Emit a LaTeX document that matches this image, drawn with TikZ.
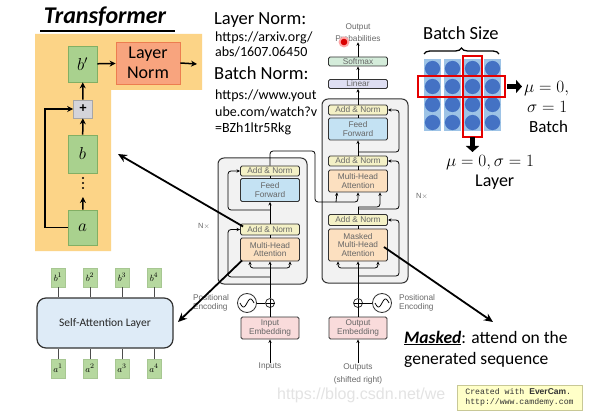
\documentclass[tikz,border=0pt]{standalone}
\usepackage{fontspec}
\setmainfont{Carlito}
\newfontfamily\helv{Liberation Sans}
\newfontfamily\monof{Liberation Mono}
\usetikzlibrary{arrows.meta,decorations.pathreplacing,calc}
\definecolor{orangebg}{RGB}{252,212,135}
\definecolor{gfill}{RGB}{169,209,142}
\definecolor{gdraw}{RGB}{130,175,100}
\definecolor{lnfill}{RGB}{248,164,126}
\definecolor{lndraw}{RGB}{236,125,80}
\definecolor{plusfill}{RGB}{212,212,218}
\definecolor{anfill}{RGB}{244,241,198}
\definecolor{fffill}{RGB}{196,226,243}
\definecolor{mhafill}{RGB}{252,224,192}
\definecolor{embfill}{RGB}{249,219,219}
\definecolor{smfill}{RGB}{212,236,218}
\definecolor{linfill}{RGB}{222,222,242}
\definecolor{blockfill}{RGB}{242,242,242}
\definecolor{colfill}{RGB}{157,195,230}
\definecolor{dotfill}{RGB}{68,114,196}
\definecolor{safill}{RGB}{222,235,247}
\definecolor{ecfill}{RGB}{255,255,200}
\definecolor{ecdraw}{RGB}{200,200,150}
\definecolor{txtgray}{RGB}{105,105,105}
\newcommand{\fsz}[1]{\fontsize{#1}{#1}\selectfont}
\tikzset{
  arch/.style={draw=black!80, line width=0.9pt, rounded corners=1.5pt, inner sep=0pt, align=center,
    font=\helv\fsz{8.3}, text=black!60},
  anbox/.style={arch, fill=anfill, minimum width=59pt, minimum height=10pt},
  ffbox/.style={arch, fill=fffill, minimum width=59pt, minimum height=23pt},
  mhabox/.style={arch, fill=mhafill, minimum width=59pt, minimum height=23pt},
  embbox/.style={arch, fill=embfill, minimum width=58pt, minimum height=22pt},
  smbox/.style={arch, fill=smfill, minimum width=59pt, minimum height=9pt},
  linbox/.style={arch, fill=linfill, minimum width=59pt, minimum height=9pt},
  block/.style={draw=black!80, fill=blockfill, line width=1pt, rounded corners=6pt},
  lbl/.style={font=\helv\fsz{8.3}, text=txtgray, inner sep=0pt, align=center},
  arr/.style={-{Stealth[length=3.5pt,width=3.2pt]}, line width=0.8pt},
  ln/.style={line width=0.8pt},
  gbox/.style={draw=gdraw, fill=gfill, line width=0.8pt, minimum width=29pt, inner sep=0pt, font=\fsz{18}},
  tarr/.style={-{Stealth[length=6pt,width=6pt]}, line width=1.5pt},
  bigarr/.style={-{Stealth[length=9pt,width=8pt]}, line width=1.8pt},
  sgbox/.style={draw=gdraw!70, fill=gfill!85, line width=0.5pt, minimum width=14pt, minimum height=19pt, inner sep=0pt, font=\fsz{9.5}},
  bigtxt/.style={anchor=base west, inner sep=0pt},
}
\begin{document}
\begin{tikzpicture}[x=1pt,y=-1pt]
\useasboundingbox (0,0) rectangle (589,414);
\fill[white] (0,0) rectangle (589,414);

% watermark (visible part, left of the EverCam box)
\node[anchor=west, text=black!11, font=\helv\fsz{16}, inner sep=0pt] (wm) at (277,395) {https://blog.csdn.net/we};

% ---------------- Transformer (top left) ----------------
\node[font=\fsz{24}\bfseries\itshape, inner sep=0pt] (title) at (105,17) {Transformer};
\draw[line width=1.2pt] (40,31) -- (175,31);
\fill[orangebg] (35,34) -- (202,34) -- (202,90) -- (111,90) -- (111,251) -- (35,251) -- cycle;
\node[gbox, minimum height=36pt] (bp) at (82.5,64) {$b'$};
\node[draw=lndraw, fill=lnfill, line width=0.8pt, minimum width=64pt, minimum height=42pt, inner sep=0pt,
  align=center, font=\fontsize{18}{20}\selectfont] (lnorm) at (148,63) {Layer\\Norm};
\node[draw=black!35, fill=plusfill, line width=0.6pt, minimum width=19pt, minimum height=18pt, inner sep=0pt,
  font=\fsz{14}\bfseries] (plus) at (83,109) {+};
\node[gbox, minimum height=38pt] (b) at (82.5,154) {$b$};
\node[gbox, minimum height=35pt] (a) at (82.5,227.5) {$a$};
\coordinate (lnout) at (197,64);
\coordinate (dotstop) at (83,197);
\draw[tarr] (bp) -- (lnorm);
\draw[tarr] (lnorm.east) -- (lnout);
\draw[tarr] (plus) -- (bp);
\draw[tarr] (b) -- (plus);
\foreach \yy in {178,183,188} \fill (83,\yy) circle (1.1);
\draw[tarr] (a) -- (dotstop);
\draw[tarr] (a.west) -- (45,227.5) |- (plus.west);

% ---------------- text block ----------------
\node[bigtxt, font=\fsz{18.5}] (t1) at (214,25) {Layer Norm:};
\node[bigtxt, font=\fsz{14}] (t2) at (215,42) {https://arxiv.org/};
\node[bigtxt, font=\fsz{14}] (t3) at (215,57) {abs/1607.06450};
\node[bigtxt, font=\fsz{18.5}] (t4) at (214,80) {Batch Norm:};
\node[bigtxt, font=\fsz{14}] (t5) at (215,100) {https://www.yout};
\node[bigtxt, font=\fsz{14}] (t6) at (215,116.5) {ube.com/watch?v};
\node[bigtxt, font=\fsz{14}] (t7) at (215,133) {=BZh1ltr5Rkg};

% ---------------- Encoder ----------------
\draw[block] (218,158) rectangle (307,284);
\node[anbox, minimum height=10pt] (eAN2) at (270,171) {Add \& Norm};
\node[ffbox] (eFF) at (270,190) {Feed\\Forward};
\node[anbox, minimum height=11pt] (eAN1) at (270,229.5) {Add \& Norm};
\node[mhabox] (eMHA) at (270,249.5) {Multi-Head\\Attention};
\node[embbox] (eEmb) at (270,328) {Input\\Embedding};
\node[draw=black!80, line width=0.8pt, circle, minimum size=9pt, inner sep=0pt] (ePlus) at (270,303) {};
\draw[line width=0.7pt] (265.5,303) -- (274.5,303) (270,298.5) -- (270,307.5);
\node[draw=black!80, line width=0.8pt, circle, minimum size=19pt, inner sep=0pt] (eSin) at (247,303) {};
\draw[line width=0.8pt, domain=-7:7, samples=30, smooth, variable=\t] plot ({247+\t},{303-4*sin(\t/7*180)});
\node[lbl] (eIn) at (270,367) {Inputs};
\node[lbl, align=left] (ePE) at (211,303) {Positional\\[1pt]Encoding};
\node[lbl, font=\helv\fsz{7.5}] (eN) at (204,226) {N$\times$};
\draw[arr] (eIn.north) -- (eEmb.south);
\draw[ln] (eEmb.north) -- (ePlus.south);
\draw[ln] (eSin.east) -- (ePlus.west);
\draw[arr] (ePlus.north) -- (eMHA.south);
\draw[arr, rounded corners=3pt] (270,268) -| ($(eMHA.south)+(-20,0)$);
\draw[arr, rounded corners=3pt] (270,268) -| ($(eMHA.south)+(20,0)$);
\draw[arr, rounded corners=3pt] (270,277) -| (228,229.5) -- (eAN1.west);
\draw[ln] (eMHA.north) -- (eAN1.south);
\draw[arr] (eAN1.north) -- (eFF.south);
\draw[arr, rounded corners=3pt] (270,210) -| (228,171) -- (eAN2.west);
\draw[ln] (eFF.north) -- (eAN2.south);

% ---------------- Decoder ----------------
\draw[block] (322,99) rectangle (408,283);
\node[anbox] (dAN3) at (358,110) {Add \& Norm};
\node[ffbox, minimum height=22pt] (dFF) at (358,129) {Feed\\Forward};
\node[anbox] (dAN2) at (358,161) {Add \& Norm};
\node[mhabox, minimum height=22pt] (dMHA) at (358,181) {Multi-Head\\Attention};
\node[anbox, minimum height=11pt] (dAN1) at (358,220) {Add \& Norm};
\node[mhabox, minimum height=32pt] (dMMHA) at (358,245) {Masked\\Multi-Head\\Attention};
\node[embbox] (dEmb) at (358,328) {Output\\Embedding};
\node[draw=black!80, line width=0.8pt, circle, minimum size=9pt, inner sep=0pt] (dPlus) at (358,303) {};
\draw[line width=0.7pt] (353.5,303) -- (362.5,303) (358,298.5) -- (358,307.5);
\node[draw=black!80, line width=0.8pt, circle, minimum size=19pt, inner sep=0pt] (dSin) at (382,303) {};
\draw[line width=0.8pt, domain=-7:7, samples=30, smooth, variable=\t] plot ({382+\t},{303-4*sin(\t/7*180)});
\node[lbl] (dOut) at (358,367) {Outputs};
\node[lbl] (dShift) at (358,380) {(shifted right)};
\node[lbl, align=left] (dPE) at (417,303) {Positional\\[1pt]Encoding};
\node[lbl, font=\helv\fsz{7.5}] (dN) at (422,196) {N$\times$};
\node[linbox] (lin) at (358,84) {Linear};
\node[smbox] (sm) at (358,61.5) {Softmax};
\node[lbl] (po1) at (358,27) {Output};
\node[lbl] (po2) at (358,39) {Probabilities};
\draw[arr] (dOut.north) -- (dEmb.south);
\draw[ln] (dEmb.north) -- (dPlus.south);
\draw[ln] (dSin.west) -- (dPlus.east);
\draw[arr] (dPlus.north) -- (dMMHA.south);
\draw[arr, rounded corners=3pt] (358,268) -| ($(dMMHA.south)+(-20,0)$);
\draw[arr, rounded corners=3pt] (358,268) -| ($(dMMHA.south)+(20,0)$);
\draw[arr, rounded corners=3pt] (358,276) -| (399,220) -- (dAN1.east);
\draw[ln] (dMMHA.north) -- (dAN1.south);
\draw[ln] (dAN1.north) -- (358,207);
\draw[arr, rounded corners=3pt] (358,207) -| ($(dMHA.south)+(22,0)$);
\draw[arr, rounded corners=3pt] (358,209) -| (399,161) -- (dAN2.east);
\draw[arr, rounded corners=3pt] (eAN2.north) |- (315,151) |- (358,202) -- (dMHA.south);
\draw[arr, rounded corners=3pt] (336,202) -- ($(dMHA.south)+(-21,0)$);
\draw[ln] (dMHA.north) -- (dAN2.south);
\draw[arr] (dAN2.north) -- (dFF.south);
\draw[arr, rounded corners=3pt] (358,152) -| (399,110) -- (dAN3.east);
\draw[ln] (dFF.north) -- (dAN3.south);
\draw[arr] (dAN3.north) -- (lin.south);
\draw[arr] (lin.north) -- (sm.south);
\draw[arr] (sm.north) -- (po2.south);
% cursor
\fill[red!35] (344,42) circle (5.5);
\fill[red!85!black] (344,42) circle (3.3);

% ---------------- Batch / Layer norm grid ----------------
\node[bigtxt, font=\fsz{18.5}] (bs) at (423,40) {Batch Size};
\draw[line width=1.3pt, decorate, decoration={brace, amplitude=6pt}] (424,54) -- (499,54);
\foreach \cx in {432.5,452.5,472.5,492.5} {
  \fill[colfill] (\cx-8.5,59) rectangle (\cx+8.5,131);
  \foreach \cy in {68.5,86.5,104.5,122.5}
    \fill[dotfill] (\cx,\cy) circle (7.6);
}
\draw[red!90!black, line width=1.6pt] (418,76) rectangle (505,97);
\draw[red!90!black, line width=1.6pt] (463,56) rectangle (482,137);
\coordinate (rs) at (507,86.5);
\coordinate (re) at (522,86.5);
\draw[line width=5pt, -{Triangle[length=6pt,width=13pt]}] (rs) -- (re);
\coordinate (ds) at (472.5,137);
\coordinate (de) at (472.5,152);
\draw[line width=5pt, -{Triangle[length=6pt,width=13pt]}] (ds) -- (de);
\node[bigtxt, font=\fsz{18.5}] (m1) at (524,93) {$\mu=0,$};
\node[bigtxt, font=\fsz{18.5}] (s1) at (527,113) {$\sigma=1$};
\node[bigtxt, font=\fsz{17}] (bt) at (529,133) {Batch};
\node[bigtxt, font=\fsz{18.5}] (m2) at (446,167) {$\mu=0,\sigma=1$};
\node[bigtxt, font=\fsz{18}] (ly) at (475,187) {Layer};

% ---------------- Self-attention layer ----------------
\node[draw=black!80, fill=safill, line width=1.2pt, rounded corners=9pt, minimum width=136pt, minimum height=50pt,
  font=\fsz{11.5}, text=black!85] (sa) at (105,323) {Self-Attention Layer};
\foreach \i/\xx in {1/58,2/90,3/122,4/154} {
  \node[sgbox] (sb\i) at (\xx,277.5) {$b^{\i}$};
  \node[sgbox] (sa\i) at (\xx,368.5) {$a^{\i}$};
  \draw[line width=1pt, black!70] (sb\i.south) -- (sb\i.south |- sa.north);
  \draw[line width=1pt, black!70] (sa\i.north) -- (sa\i.north |- sa.south);
}

% ---------------- annotation arrows ----------------
\coordinate (tip1) at (118,154);
\coordinate (tip2) at (178,322);
\coordinate (tip3) at (493,322);
\draw[bigarr] ($(eAN1.west)+(3,-3)$) -- (tip1);
\draw[bigarr] ($(eMHA.south west)+(2,-1)$) -- (tip2);
\draw[bigarr] ($(dMMHA.east)+(-4,2)$) -- (tip3);

% ---------------- Masked text ----------------
\node[bigtxt, font=\fsz{17.5}] (mk1) at (404,343) {\underline{\textbf{\textit{Masked}}}: attend on the};
\node[bigtxt, font=\fsz{17.5}] (mk2) at (404,364) {generated sequence};

% ---------------- EverCam box ----------------
\node[draw=ecdraw, fill=ecfill, line width=0.8pt, minimum width=125pt, minimum height=25pt, inner sep=2pt,
  align=left, font=\monof\fsz{8.2}, text=black!80] (ec) at (519.5,397.5)
  {Created with {\helv\bfseries\fsz{8.5}EverCam}.\\[2pt]http://www.camdemy.com};
\end{tikzpicture}
\end{document}
